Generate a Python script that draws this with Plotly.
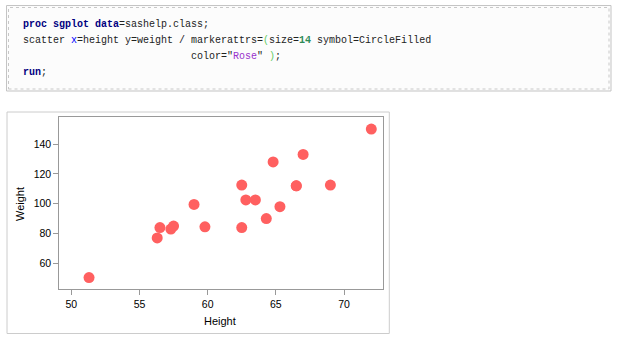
import plotly.graph_objects as go

# sashelp.class
height = [69.0, 56.5, 65.3, 62.8, 63.5, 57.3, 59.8, 62.5, 62.5, 59.0,
          51.3, 64.3, 56.3, 66.5, 72.0, 64.8, 67.0, 57.5, 66.5]
weight = [112.5, 84.0, 98.0, 102.5, 102.5, 83.0, 84.5, 112.5, 84.0, 99.5,
          50.5, 90.0, 77.0, 112.0, 150.0, 128.0, 133.0, 85.0, 112.0]
x_ticks = [50, 55, 60, 65, 70]
y_ticks = [60, 80, 100, 120, 140]

W, H = 619, 344


def px(x):
    return x / W


def py(y):
    return 1 - y / H


fig = go.Figure()
fig.add_trace(go.Scatter(
    x=height, y=weight, mode="markers",
    marker=dict(size=11, color="#FF6060", line=dict(width=0)),
    hoverinfo="x+y", showlegend=False,
))

tickfont = dict(family="Liberation Sans, Arial, sans-serif", size=10.5, color="#000")

fig.update_layout(
    width=W, height=H,
    margin=dict(l=0, r=0, t=0, b=0),
    paper_bgcolor="white", plot_bgcolor="white",
    xaxis=dict(
        domain=[px(59.3), px(383.3)], range=[49.12, 72.88],
        tickvals=x_ticks, ticks="outside", ticklen=5, tickcolor="#999",
        showline=True, mirror=True, linecolor="#999", linewidth=1,
        showgrid=False, zeroline=False, tickfont=tickfont,
    ),
    yaxis=dict(
        domain=[py(289.3), py(117.3)], range=[42.6, 157.9],
        tickvals=y_ticks, ticks="outside", ticklen=5, tickcolor="#999",
        showline=True, mirror=True, linecolor="#999", linewidth=1,
        showgrid=False, zeroline=False, tickfont=tickfont,
    ),
)

shapes = [
    # code box
    dict(type="rect", xref="paper", yref="paper", x0=px(6.5), x1=px(611), y0=py(91), y1=py(5.5),
         line=dict(color="#c4c4c4", width=1), fillcolor="#fcfcfc", layer="below"),
    dict(type="rect", xref="paper", yref="paper", x0=px(8.5), x1=px(609), y0=py(89), y1=py(7.5),
         line=dict(color="#c8c8c8", width=1, dash="dot"), layer="below"),
    # chart box
    dict(type="rect", xref="paper", yref="paper", x0=px(7), x1=px(389.3), y0=py(333.5), y1=py(112),
         line=dict(color="#cccccc", width=1), layer="below"),
]
fig.update_layout(shapes=shapes)

code_font = dict(family="Liberation Mono, DejaVu Sans Mono, monospace", size=10, color="#222")
NAVY = "#000080"
lines = [
    (20.5, 24.5, f"<b><span style='color:{NAVY}'>proc sgplot data</span></b>=sashelp.class;"),
    (20.5, 40.5, "scatter <span style='color:#0000ff'>x</span>=height y=weight / markerattrs="
                 "<span style='color:#66cc66'>(</span>size=<b><span style='color:#2e8b57'>14</span></b> symbol=CircleFilled"),
    (188.5, 56.5, "color=\"<span style='color:#9932cc'>Rose</span>\" <span style='color:#66cc66'>)</span>;"),
    (20.5, 72, f"<b><span style='color:{NAVY}'>run</span></b>;"),
]
annotations = []
for x, y, t in lines:
    annotations.append(dict(text=t, x=px(x), y=py(y), xref="paper", yref="paper",
                            xanchor="left", yanchor="middle", showarrow=False, font=code_font))

label_font = dict(family="Liberation Sans, Arial, sans-serif", size=11, color="#000")
annotations.append(dict(text="Height", x=px(220), y=py(321), xref="paper", yref="paper",
                        xanchor="center", yanchor="middle", showarrow=False, font=label_font))
annotations.append(dict(text="Weight", x=px(20), y=py(204), xref="paper", yref="paper",
                        xanchor="center", yanchor="middle", showarrow=False, font=label_font,
                        textangle=-90))
fig.update_layout(annotations=annotations)

fig.write_html("out.html")
